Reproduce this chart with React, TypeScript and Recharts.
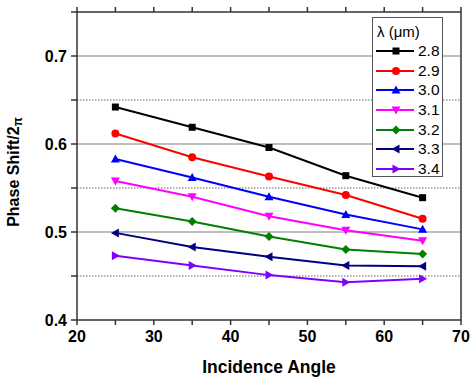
import React from 'react';
import { LineChart, Line, XAxis, YAxis, ReferenceLine, Legend } from 'recharts';

// incidence angles (deg) and phase shift / 2pi for each wavelength
const angles = [25, 35, 45, 55, 65];
const s28 = [0.642, 0.619, 0.596, 0.564, 0.539];
const s29 = [0.612, 0.585, 0.563, 0.542, 0.515];
const s30 = [0.583, 0.562, 0.54, 0.52, 0.503];
const s31 = [0.558, 0.54, 0.518, 0.502, 0.49];
const s32 = [0.527, 0.512, 0.495, 0.48, 0.475];
const s33 = [0.499, 0.483, 0.472, 0.462, 0.461];
const s34 = [0.473, 0.462, 0.451, 0.443, 0.447];

const xTicks = [20, 25, 30, 35, 40, 45, 50, 55, 60, 65, 70];
const yTicks = [0.4, 0.45, 0.5, 0.55, 0.6, 0.65, 0.7, 0.75];
const solidGrid = [0.5, 0.6, 0.7];
const dottedGrid = [0.45, 0.55, 0.65];

type Shape = 'square' | 'circle' | 'up' | 'down' | 'diamond' | 'left' | 'right';

const series: { key: string; name: string; color: string; shape: Shape; values: number[] }[] = [
  { key: 's28', name: '2.8', color: '#000000', shape: 'square', values: s28 },
  { key: 's29', name: '2.9', color: '#ff0000', shape: 'circle', values: s29 },
  { key: 's30', name: '3.0', color: '#0000ff', shape: 'up', values: s30 },
  { key: 's31', name: '3.1', color: '#ff00ff', shape: 'down', values: s31 },
  { key: 's32', name: '3.2', color: '#008000', shape: 'diamond', values: s32 },
  { key: 's33', name: '3.3', color: '#000080', shape: 'left', values: s33 },
  { key: 's34', name: '3.4', color: '#8000ff', shape: 'right', values: s34 },
];

const data = angles.map((a, i) => {
  const row: Record<string, number> = { angle: a };
  series.forEach((s) => (row[s.key] = s.values[i]));
  return row;
});

const FONT = '"Liberation Sans", Arial, sans-serif';

function marker(shape: Shape, cx: number, cy: number, color: string, key?: string | number) {
  const r = 4.5;
  switch (shape) {
    case 'square':
      return <rect key={key} x={cx - 3.5} y={cy - 3.5} width={7} height={7} fill={color} />;
    case 'circle':
      return <circle key={key} cx={cx} cy={cy} r={4} fill={color} />;
    case 'up':
      return <path key={key} d={`M${cx},${cy - r}L${cx + r},${cy + 3.5}L${cx - r},${cy + 3.5}Z`} fill={color} />;
    case 'down':
      return <path key={key} d={`M${cx},${cy + r}L${cx + r},${cy - 3.5}L${cx - r},${cy - 3.5}Z`} fill={color} />;
    case 'diamond':
      return <path key={key} d={`M${cx},${cy - r}L${cx + r},${cy}L${cx},${cy + r}L${cx - r},${cy}Z`} fill={color} />;
    case 'left':
      return <path key={key} d={`M${cx - r},${cy}L${cx + 3.5},${cy - r}L${cx + 3.5},${cy + r}Z`} fill={color} />;
    default:
      return <path key={key} d={`M${cx + r},${cy}L${cx - 3.5},${cy - r}L${cx - 3.5},${cy + r}Z`} fill={color} />;
  }
}

const LegendBox = () => (
  <div
    style={{
      width: 71,
      height: 160,
      border: '1px solid #555',
      background: '#fff',
      fontFamily: FONT,
      color: '#000',
      boxSizing: 'border-box',
    }}
  >
    <div style={{ fontSize: 15, lineHeight: '18px', paddingLeft: 4, paddingTop: 5 }}>λ (μm)</div>
    {series.map((s) => (
      <div key={s.key} style={{ display: 'flex', alignItems: 'center', height: 19.7 }}>
        <svg width={42} height={12} style={{ marginLeft: 3 }}>
          <line x1={0} y1={6} x2={38} y2={6} stroke={s.color} strokeWidth={2} />
          {marker(s.shape, 20, 6, s.color)}
        </svg>
        <span style={{ fontSize: 15.5 }}>{s.name}</span>
      </div>
    ))}
  </div>
);

const YTitle = (props: any) => {
  const vb = props.viewBox || {};
  const cy = vb.y + vb.height / 2 + 6;
  return (
    <text
      x={0}
      y={0}
      transform={`translate(19,${cy}) rotate(-90)`}
      textAnchor="middle"
      fontFamily={FONT}
      fontWeight="bold"
      fontSize={16}
      fill="#000"
    >
      Phase Shift/2<tspan fontSize={12} dy={3}>π</tspan>
    </text>
  );
};

const tickStyle = { fontFamily: FONT, fontWeight: 'bold' as const, fontSize: 16, fill: '#000' };
const axisStroke = '#333';
const noLabel = () => <g />;

export default function App() {
  return (
    <div style={{ position: 'absolute', left: 0, top: 0, background: '#fff' }}>
      <LineChart width={474} height={381} data={data} margin={{ top: 11, right: 12, left: 0, bottom: 0 }}>
        {solidGrid.map((v) => (
          <ReferenceLine key={`g${v}`} y={v} stroke="#a8a8a8" strokeWidth={1.5} />
        ))}
        {dottedGrid.map((v) => (
          <ReferenceLine key={`d${v}`} y={v} stroke="#666" strokeWidth={1} strokeDasharray="1.5 1.5" />
        ))}
        <XAxis
          dataKey="angle"
          type="number"
          domain={[20, 70]}
          ticks={xTicks}
          interval={0}
          height={61}
          tick={tickStyle}
          tickFormatter={(v: number) => (v % 10 === 0 ? String(v) : '')}
          tickSize={5}
          tickMargin={6}
          stroke={axisStroke}
          strokeWidth={1.5}
          label={{
            value: 'Incidence Angle',
            position: 'insideBottom',
            offset: 8,
            style: { fontFamily: FONT, fontWeight: 'bold', fontSize: 17.5, fill: '#000' },
          }}
        />
        <XAxis
          xAxisId="top"
          dataKey="angle"
          type="number"
          orientation="top"
          domain={[20, 70]}
          ticks={xTicks}
          interval={0}
          height={1}
          tick={noLabel}
          tickSize={5}
          stroke={axisStroke}
          strokeWidth={1.5}
        />
        <YAxis
          type="number"
          domain={[0.4, 0.75]}
          ticks={yTicks}
          interval={0}
          width={77}
          tick={tickStyle}
          tickFormatter={(v: number) => (Math.round(v * 100) % 10 === 0 && v < 0.75 ? v.toFixed(1) : '')}
          tickSize={6}
          tickMargin={4}
          stroke={axisStroke}
          strokeWidth={1.5}
          label={<YTitle />}
        />
        <YAxis
          yAxisId="right"
          orientation="right"
          type="number"
          domain={[0.4, 0.75]}
          ticks={yTicks}
          interval={0}
          width={1}
          tick={noLabel}
          tickSize={6}
          stroke={axisStroke}
          strokeWidth={1.5}
        />
        <Legend
          content={<LegendBox />}
          layout="vertical"
          verticalAlign="middle"
          align="center"
          wrapperStyle={{ position: 'absolute', left: 372, top: 17, width: 71, height: 160 }}
        />
        {series.map((s) => (
          <Line
            key={s.key}
            type="linear"
            dataKey={s.key}
            name={s.name}
            stroke={s.color}
            strokeWidth={2}
            isAnimationActive={false}
            dot={(p: any) => marker(s.shape, p.cx, p.cy, s.color, `${s.key}-${p.index}`)}
            activeDot={false}
          />
        ))}
      </LineChart>
    </div>
  );
}
